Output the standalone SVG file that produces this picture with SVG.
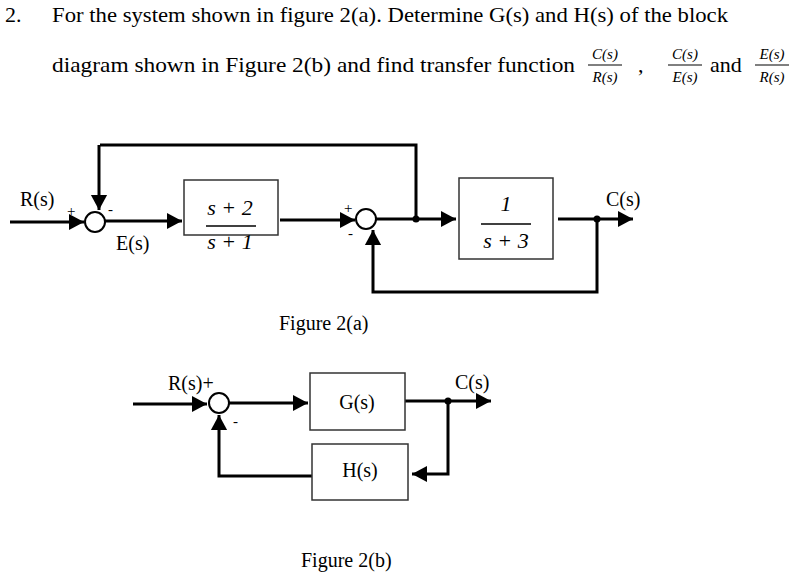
<svg xmlns="http://www.w3.org/2000/svg" width="796" height="576" viewBox="0 0 796 576">
<style>
text{font-family:"Liberation Serif","DejaVu Serif",serif;fill:#000}
.t{font-size:22px}
.f{font-size:15px;font-style:italic;text-anchor:middle}
.m{font-size:22px;font-style:italic;text-anchor:middle}
.l{font-size:20px}
.s{font-size:15px}
.b{fill:#fff;stroke:#333;stroke-width:1.5}
.w{fill:none;stroke:#000;stroke-width:3}
.j{fill:#fff;stroke:#000;stroke-width:2}
</style>
<defs><marker id="a" markerWidth="6" markerHeight="6" refX="5" refY="3" orient="auto" markerUnits="strokeWidth"><path d="M0,0.3L5,3L0,5.7z" fill="#000"/></marker></defs>
<rect width="796" height="576" fill="#fff"/>
<text class="t" x="5" y="22">2.</text>
<text class="t" x="52" y="22" textLength="676" lengthAdjust="spacingAndGlyphs">For the system shown in figure 2(a). Determine G(s) and H(s) of the block</text>
<text class="t" x="52" y="72" textLength="523" lengthAdjust="spacingAndGlyphs">diagram shown in Figure 2(b) and find transfer function</text>
<g id="frac1"><text class="f" x="605" y="59">C(s)</text><line x1="588" y1="65" x2="622" y2="65" stroke="#000"/><text class="f" x="605" y="82">R(s)</text></g>
<text class="t" x="638" y="72">,</text>
<g id="frac2"><text class="f" x="685" y="59">C(s)</text><line x1="668" y1="65" x2="702" y2="65" stroke="#000"/><text class="f" x="685" y="82">E(s)</text></g>
<text class="t" x="710" y="72">and</text>
<g id="frac3"><text class="f" x="772" y="59">E(s)</text><line x1="755" y1="65" x2="789" y2="65" stroke="#000"/><text class="f" x="772" y="82">R(s)</text></g>

<g id="connectors">
<path class="w" d="M10,222H84" marker-end="url(#a)"/>
<path class="w" d="M100,145H416V219" />
<path class="w" d="M99,145V210" marker-end="url(#a)"/>
<path class="w" d="M105,221H182" marker-end="url(#a)"/>
<path class="w" d="M280,220H355" marker-end="url(#a)"/>
<path class="w" d="M376,219H456" marker-end="url(#a)"/>
<path class="w" d="M558,219H633" marker-end="url(#a)"/>
<path class="w" d="M597,219V292H373V230" marker-end="url(#a)"/>
<path class="w" d="M133,404H207" marker-end="url(#a)"/>
<path class="w" d="M229,403H308" marker-end="url(#a)"/>
<path class="w" d="M405,401H491" marker-end="url(#a)"/>
<path class="w" d="M448,401V474H412" marker-end="url(#a)"/>
<path class="w" d="M312,476H219V415" marker-end="url(#a)"/>
<circle cx="416" cy="219" r="3.5"/><circle cx="597" cy="219" r="3.5"/><circle cx="448" cy="401" r="3.5"/>
</g>
<g id="sum1"><circle class="j" cx="95" cy="222" r="10"/></g>
<g id="sum2"><circle class="j" cx="366" cy="219" r="10"/></g>
<g id="sum3"><circle class="j" cx="219" cy="403" r="10"/></g>
<g id="block1"><rect class="b" x="184" y="180" width="94" height="55"/><text class="m" x="230" y="215">s + 2</text><line x1="206" y1="226" x2="256" y2="226" stroke="#000" stroke-width="1.5"/><text class="m" x="230" y="249">s + 1</text></g>
<g id="block2"><rect class="b" x="459" y="178" width="94" height="81"/><text class="m" x="506" y="211">1</text><line x1="481" y1="224" x2="531" y2="224" stroke="#000" stroke-width="1.5"/><text class="m" x="506" y="248">s + 3</text></g>
<g id="blockG"><rect class="b" x="310" y="373" width="95" height="57"/><text class="l" x="357" y="409" text-anchor="middle">G(s)</text></g>
<g id="blockH"><rect class="b" x="312" y="444" width="96" height="56"/><text class="l" x="360" y="477" text-anchor="middle">H(s)</text></g>
<text class="l" x="20" y="206">R(s)</text>
<text class="s" x="67" y="216">+</text>
<text class="s" x="108" y="214">-</text>
<text class="l" x="116" y="250">E(s)</text>
<text class="s" x="344" y="213">+</text>
<text class="s" x="348" y="238">-</text>
<text class="l" x="606" y="206">C(s)</text>
<text class="l" x="279" y="330">Figure 2(a)</text>
<text class="l" x="168" y="390">R(s)+</text>
<text class="s" x="233" y="426">-</text>
<text class="l" x="455" y="389">C(s)</text>
<text class="l" x="301" y="567">Figure 2(b)</text>
</svg>
